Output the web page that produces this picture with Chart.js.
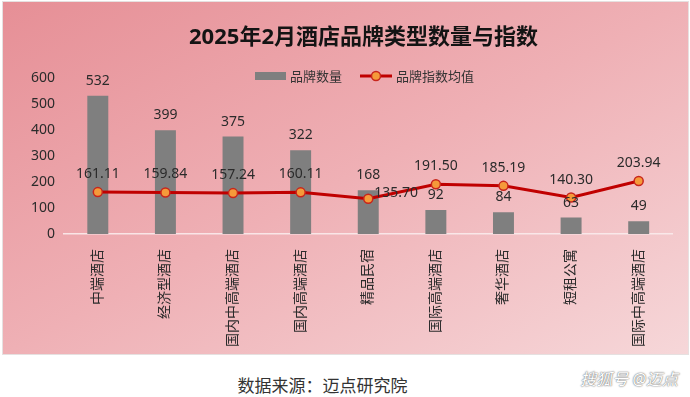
<!DOCTYPE html>
<html>
<head>
<meta charset="utf-8">
<script src="https://cdn.jsdelivr.net/npm/chart.js@4"></script>
<style>
  html, body { margin: 0; padding: 0; background: #fff; }
  body { width: 690px; height: 397px; position: relative; overflow: hidden;
         font-family: 'Noto Sans', 'Noto Sans CJK SC', sans-serif; }
  #box { position: absolute; left: 3px; top: 2px; width: 685px; height: 352px;
         background: linear-gradient(to bottom right, #e68f96 0%, #efb0b5 50%, #f6d7d9 100%);
         outline: 1px solid #e6e0e0; }
  #source { position: absolute; left: 0; width: 645px; top: 372px; text-align: center;
            font-size: 17px; color: #333; }
  #mark { position: absolute; right: 12px; top: 366px; font-size: 16px; font-style: italic;
          color: #fff; text-shadow: 0 0 1px #666, 0 0 2px #888; }
</style>
</head>
<body>
<div id="box"><canvas id="chart" width="685" height="352"></canvas></div>
<div id="source">数据来源：迈点研究院</div>
<div id="mark">搜狐号 @迈点</div>
<script>
// data
const categories = ["中端酒店", "经济型酒店", "国内中高端酒店", "国内高端酒店", "精品民宿",
                    "国际高端酒店", "奢华酒店", "短租公寓", "国际中高端酒店"];
const brandCount = [532, 399, 375, 322, 168, 92, 84, 63, 49];
const brandIndexAvg = [161.11, 159.84, 157.24, 160.11, 135.70, 191.50, 185.19, 140.30, 203.94];
const yTicks = [0, 100, 200, 300, 400, 500, 600];

const titleText = "2025年2月酒店品牌类型数量与指数";
const FONT = "'Noto Sans', 'Noto Sans CJK SC', sans-serif";
const headerShift = 18; // title + legend sit a bit right of centre

// title, legend and value labels
const decorPlugin = {
  id: "decor",
  afterDatasetsDraw(chart) {
    const ctx = chart.ctx;
    const cx = chart.width / 2 + headerShift;
    ctx.save();

    // title
    ctx.fillStyle = "#141414";
    ctx.font = "bold 22px " + FONT;
    ctx.textAlign = "center";
    ctx.textBaseline = "middle";
    ctx.fillText(titleText, cx, 36);

    // legend
    const barDs = chart.data.datasets[0];
    const lineDs = chart.data.datasets[1];
    ctx.font = "13px " + FONT;
    const w1 = ctx.measureText(barDs.label).width;
    const w2 = ctx.measureText(lineDs.label).width;
    const total = 31 + 4 + w1 + 48 + 4 + w2;
    let x = cx - total / 2;
    const ly = 74;
    ctx.fillStyle = barDs.backgroundColor;
    ctx.fillRect(x, ly - 4, 31, 8);
    x += 35;
    ctx.fillStyle = "#333";
    ctx.textAlign = "left";
    ctx.fillText(barDs.label, x, ly + 1);
    x += w1 + 18;
    ctx.strokeStyle = lineDs.borderColor;
    ctx.lineWidth = 3;
    ctx.beginPath();
    ctx.moveTo(x, ly);
    ctx.lineTo(x + 32, ly);
    ctx.stroke();
    ctx.beginPath();
    ctx.arc(x + 16, ly, 4.5, 0, Math.PI * 2);
    ctx.fillStyle = lineDs.pointBackgroundColor;
    ctx.fill();
    ctx.lineWidth = 1.5;
    ctx.strokeStyle = lineDs.pointBorderColor;
    ctx.stroke();
    x += 36;
    ctx.fillStyle = "#333";
    ctx.fillText(lineDs.label, x, ly + 1);

    // value labels
    ctx.font = "14px " + FONT;
    ctx.fillStyle = "#2b2b2b";
    ctx.textAlign = "center";
    ctx.textBaseline = "alphabetic";
    chart.getDatasetMeta(0).data.forEach((bar, i) => {
      ctx.fillText(String(brandCount[i]), bar.x, bar.y - 11);
    });
    const rightLabels = [4];
    chart.getDatasetMeta(1).data.forEach((pt, i) => {
      const txt = brandIndexAvg[i].toFixed(2);
      if (rightLabels.includes(i)) {
        ctx.textAlign = "left";
        ctx.textBaseline = "middle";
        ctx.fillText(txt, pt.x + 6, pt.y - 6);
      } else {
        ctx.textAlign = "center";
        ctx.textBaseline = "alphabetic";
        ctx.fillText(txt, pt.x, pt.y - 14);
      }
    });
    ctx.restore();
  }
};

new Chart(document.getElementById("chart"), {
  data: {
    labels: categories,
    datasets: [
      {
        type: "bar",
        label: "品牌数量",
        data: brandCount,
        backgroundColor: "#7f7f7f",
        barPercentage: 0.31,
        categoryPercentage: 1,
        order: 1
      },
      {
        type: "line",
        label: "品牌指数均值",
        data: brandIndexAvg,
        borderColor: "#c00000",
        borderWidth: 3,
        pointRadius: 4.5,
        pointBackgroundColor: "#f59a3a",
        pointBorderColor: "#c8261c",
        pointBorderWidth: 1.5,
        tension: 0,
        order: 0
      }
    ]
  },
  options: {
    responsive: false,
    animation: false,
    layout: { padding: { top: 76, right: 15.5, bottom: 4, left: 0 } },
    plugins: { legend: { display: false }, title: { display: false }, tooltip: { enabled: false } },
    scales: {
      x: {
        grid: { display: false, drawTicks: false },
        border: { display: true, color: "rgba(250,235,236,0.9)", width: 1.5 },
        ticks: {
          color: "#2b2b2b",
          font: { family: FONT, size: 14 },
          minRotation: 90,
          maxRotation: 90,
          padding: 15,
          autoSkip: false
        },
        afterFit(scale) { scale.height = 116; }
      },
      y: {
        min: 0,
        max: 600,
        afterBuildTicks(scale) { scale.ticks = yTicks.map(v => ({ value: v })); },
        grid: { display: false, drawTicks: false },
        border: { display: false },
        ticks: { color: "#2b2b2b", font: { family: FONT, size: 14 }, padding: 9 },
        afterFit(scale) { scale.width = 61; }
      }
    }
  },
  plugins: [decorPlugin]
});
</script>
</body>
</html>
